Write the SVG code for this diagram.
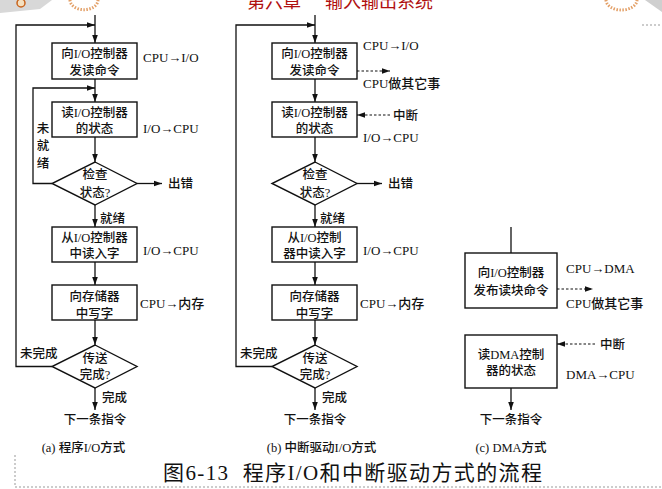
<svg xmlns="http://www.w3.org/2000/svg" width="662" height="489" viewBox="0 0 662 489">
<style>
.box{fill:#fff;stroke:#111;stroke-width:1.4}
.ln{fill:none;stroke:#111;stroke-width:1.3}
.dl{fill:none;stroke:#111;stroke-width:1.1;stroke-dasharray:2.5 2}
.t{font-family:"Liberation Serif","Noto Sans CJK SC",serif;font-size:12.5px;font-weight:500;fill:#111}
.c{text-anchor:middle}
.lb{font-family:"Liberation Serif","Noto Sans CJK SC",serif;font-size:13px;font-weight:500;fill:#111}
.deco{fill:none;stroke:#999;stroke-width:1;stroke-dasharray:2 2}
</style>
<defs>
<marker id="ah" viewBox="0 0 10 10" refX="10" refY="5" markerWidth="8" markerHeight="8" markerUnits="userSpaceOnUse" orient="auto">
<path d="M0,1.5 L10,5 L0,8.5 Z" fill="#111"/>
</marker>
</defs>
<rect width="662" height="489" fill="#fff"/>

<g id="decor">
<polygon points="0,0 52,0 40,9 0,13" fill="#d8d8d8"/>
<circle cx="21" cy="3" r="4" fill="#f4e0c0" stroke="#c8641e" stroke-width="1.5"/>
<path d="M70,0 A13,9 0 0 0 98,0" fill="none" stroke="#e3a068" stroke-width="3" stroke-dasharray="1.5 1.5"/>
<path d="M606,0 A14,9 0 0 0 637,0" fill="none" stroke="#e3a068" stroke-width="3" stroke-dasharray="1.5 1.5"/>
<polygon points="645,0 662,0 662,12" fill="#cfcfcf"/>
<line x1="642" y1="25" x2="662" y2="25" class="deco"/>
<line x1="15" y1="455" x2="15" y2="487" class="deco"/>
<line x1="15" y1="487" x2="662" y2="487" class="deco"/>
<text x="247" y="8" font-family="'Noto Sans CJK SC',sans-serif" font-size="18" fill="#b01010">第六章</text>
<text x="325" y="8" font-family="'Noto Sans CJK SC',sans-serif" font-size="18" fill="#b01010">输入输出系统</text>
</g>

<g id="connectors">
<!-- (a) -->
<line x1="95" y1="15" x2="95" y2="43" class="ln" marker-end="url(#ah)"/>
<line x1="95" y1="79" x2="95" y2="102" class="ln" marker-end="url(#ah)"/>
<line x1="95" y1="137" x2="95" y2="162" class="ln" marker-end="url(#ah)"/>
<line x1="137" y1="183.5" x2="162" y2="183.5" class="ln" marker-end="url(#ah)"/>
<polyline points="52,183.5 33,183.5 33,88 95,88" class="ln" marker-end="url(#ah)"/>
<line x1="95" y1="205" x2="95" y2="227" class="ln" marker-end="url(#ah)"/>
<line x1="95" y1="262" x2="95" y2="285" class="ln" marker-end="url(#ah)"/>
<line x1="95" y1="320" x2="95" y2="345" class="ln" marker-end="url(#ah)"/>
<polyline points="52,366.5 16,366.5 16,25 95,25" class="ln" marker-end="url(#ah)"/>
<line x1="95" y1="388" x2="95" y2="410" class="ln" marker-end="url(#ah)"/>
<!-- (b) -->
<line x1="315" y1="15" x2="315" y2="43" class="ln" marker-end="url(#ah)"/>
<line x1="357" y1="71" x2="390" y2="71" class="dl" marker-end="url(#ah)"/>
<line x1="315" y1="79" x2="315" y2="102" class="ln" marker-end="url(#ah)"/>
<line x1="390" y1="115" x2="357" y2="115" class="dl" marker-end="url(#ah)"/>
<line x1="315" y1="137" x2="315" y2="162" class="ln" marker-end="url(#ah)"/>
<line x1="357" y1="183.5" x2="382" y2="183.5" class="ln" marker-end="url(#ah)"/>
<line x1="315" y1="205" x2="315" y2="227" class="ln" marker-end="url(#ah)"/>
<line x1="315" y1="262" x2="315" y2="285" class="ln" marker-end="url(#ah)"/>
<line x1="315" y1="320" x2="315" y2="345" class="ln" marker-end="url(#ah)"/>
<polyline points="272,366.5 236,366.5 236,25 315,25" class="ln" marker-end="url(#ah)"/>
<line x1="315" y1="388" x2="315" y2="410" class="ln" marker-end="url(#ah)"/>
<!-- (c) -->
<line x1="511" y1="227" x2="511" y2="253" class="ln"/>
<line x1="557" y1="289" x2="593" y2="289" class="dl" marker-end="url(#ah)"/>
<line x1="595" y1="344" x2="557" y2="344" class="dl" marker-end="url(#ah)"/>
<line x1="511" y1="388" x2="511" y2="410" class="ln" marker-end="url(#ah)"/>
</g>

<!-- (a) nodes -->
<g id="a1"><rect x="52" y="43" width="85" height="36" class="box"/>
<text class="t c" x="94.5" y="57.5">向I/O控制器</text><text class="t c" x="94.5" y="74.5">发读命令</text></g>
<g id="a2"><rect x="52" y="102" width="85" height="35" class="box"/>
<text class="t c" x="94.5" y="116.5">读I/O控制器</text><text class="t c" x="94.5" y="132.5">的状态</text></g>
<g id="a3"><polygon points="95,162 137,183.5 95,205 52,183.5" class="box"/>
<text class="t c" x="95" y="178.5">检查</text><text class="t c" x="95" y="197">状态?</text></g>
<g id="a4"><rect x="52" y="227" width="85" height="35" class="box"/>
<text class="t c" x="94.5" y="241.5">从I/O控制器</text><text class="t c" x="94.5" y="257.5">中读入字</text></g>
<g id="a5"><rect x="52" y="285" width="85" height="35" class="box"/>
<text class="t c" x="94.5" y="300.5">向存储器</text><text class="t c" x="94.5" y="317.5">中写字</text></g>
<g id="a6"><polygon points="95,345 137,366.5 95,388 52,366.5" class="box"/>
<text class="t c" x="95" y="362.5">传送</text><text class="t c" x="95" y="378.5">完成?</text></g>
<g id="a-labels">
<text class="lb" x="143" y="61.5">CPU→I/O</text>
<text class="lb" x="143" y="132.5">I/O→CPU</text>
<text class="t c" x="43" y="132.5">未</text><text class="t c" x="43" y="149.5">就</text><text class="t c" x="43" y="167.5">绪</text>
<text class="t" x="168" y="188">出错</text>
<text class="t" x="100" y="222.5">就绪</text>
<text class="lb" x="143" y="254.5">I/O→CPU</text>
<text class="lb" x="140" y="307.5">CPU→内存</text>
<text class="t" x="20" y="357.5">未完成</text>
<text class="t" x="102" y="401.5">完成</text>
<text class="t c" x="95" y="423.5">下一条指令</text>
<text class="t c" x="83.5" y="451.5">(a) 程序I/O方式</text>
</g>

<!-- (b) nodes -->
<g id="b1"><rect x="272" y="43" width="85" height="36" class="box"/>
<text class="t c" x="314.5" y="57.5">向I/O控制器</text><text class="t c" x="314.5" y="74.5">发读命令</text></g>
<g id="b2"><rect x="272" y="102" width="85" height="35" class="box"/>
<text class="t c" x="314.5" y="116.5">读I/O控制器</text><text class="t c" x="314.5" y="132.5">的状态</text></g>
<g id="b3"><polygon points="315,162 357,183.5 315,205 272,183.5" class="box"/>
<text class="t c" x="315" y="178.5">检查</text><text class="t c" x="315" y="197">状态?</text></g>
<g id="b4"><rect x="272" y="227" width="85" height="35" class="box"/>
<text class="t c" x="314.5" y="241.5">从I/O控制</text><text class="t c" x="314.5" y="257.5">器中读入字</text></g>
<g id="b5"><rect x="272" y="285" width="85" height="35" class="box"/>
<text class="t c" x="314.5" y="300.5">向存储器</text><text class="t c" x="314.5" y="317.5">中写字</text></g>
<g id="b6"><polygon points="315,345 357,366.5 315,388 272,366.5" class="box"/>
<text class="t c" x="315" y="362.5">传送</text><text class="t c" x="315" y="378.5">完成?</text></g>
<g id="b-labels">
<text class="lb" x="363" y="49.5">CPU→I/O</text>
<text class="lb" x="363" y="87.5">CPU做其它事</text>
<text class="t" x="393" y="119.5">中断</text>
<text class="lb" x="363" y="141.5">I/O→CPU</text>
<text class="t" x="388" y="188">出错</text>
<text class="t" x="320" y="222.5">就绪</text>
<text class="lb" x="363" y="254.5">I/O→CPU</text>
<text class="lb" x="360" y="307.5">CPU→内存</text>
<text class="t" x="240" y="357.5">未完成</text>
<text class="t" x="322" y="401.5">完成</text>
<text class="t c" x="315" y="423.5">下一条指令</text>
<text class="t c" x="321.5" y="451.5">(b) 中断驱动I/O方式</text>
</g>

<!-- (c) nodes -->
<g id="c1"><rect x="465" y="253" width="92" height="55" class="box"/>
<text class="t c" x="511" y="276.5">向I/O控制器</text><text class="t c" x="511" y="294.5">发布读块命令</text></g>
<g id="c2"><rect x="465" y="335" width="92" height="53" class="box"/>
<text class="t c" x="511" y="358.5">读DMA控制</text><text class="t c" x="511" y="374.5">器的状态</text></g>
<g id="c-labels">
<text class="lb" x="566" y="272.5">CPU→DMA</text>
<text class="lb" x="566" y="307.5">CPU做其它事</text>
<text class="t" x="600" y="348.5">中断</text>
<text class="lb" x="566" y="378.5">DMA→CPU</text>
<text class="t c" x="511" y="423.5">下一条指令</text>
<text class="t c" x="511" y="451.5">(c) DMA方式</text>
</g>

<g id="caption">
<text x="163" y="480" font-family="'Liberation Serif','Noto Sans CJK SC',serif" font-size="21" fill="#111" textLength="379" lengthAdjust="spacing">图6-13&#160;&#160;程序I/O和中断驱动方式的流程</text>
</g>
</svg>
